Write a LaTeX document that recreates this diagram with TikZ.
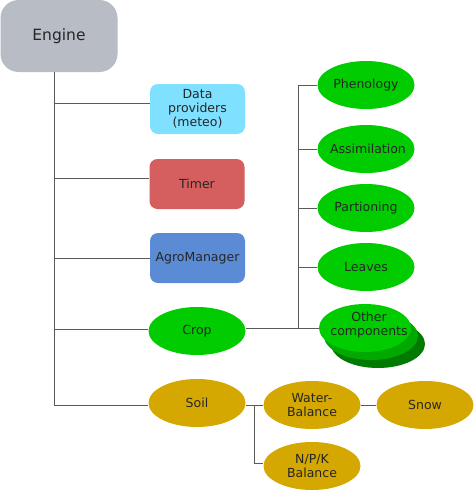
\documentclass[tikz,border=0pt]{standalone}
\usepackage{fontspec}
\setmainfont{DejaVu Sans}
\usetikzlibrary{shapes.geometric}
\definecolor{enginegray}{HTML}{B8BCC4}
\definecolor{datacyan}{HTML}{7FE0FF}
\definecolor{timerred}{HTML}{D55E5E}
\definecolor{agroblue}{HTML}{5B8BD5}
\definecolor{cropgreen}{HTML}{00CC00}
\definecolor{midgreen}{HTML}{00A800}
\definecolor{darkgreen}{HTML}{007A00}
\definecolor{soilgold}{HTML}{D4A800}
\definecolor{linegray}{HTML}{5A5A5A}
\tikzset{
  box/.style={rounded corners=8pt, minimum width=95pt, minimum height=50pt, inner sep=1pt, align=center, font=\fontsize{12.5}{14}\selectfont, text=black!85},
  oval/.style={ellipse, minimum width=97pt, minimum height=48pt, inner sep=0pt},
  ovaltext/.style={font=\fontsize{12.5}{14}\selectfont, text=black!85, align=center, inner sep=0pt},
  link/.style={draw=linegray, line width=0.9pt}
}
\begin{document}
\begin{tikzpicture}[x=1pt, y=-1pt]
\useasboundingbox (0,0) rectangle (474,490);
% Engine
\node[box, fill=enginegray, rounded corners=18pt, minimum width=117pt, minimum height=72pt, font=\fontsize{15.5}{17}\selectfont] (engine) at (59,36) {Engine};
% trunk
\coordinate (tr0) at (54,72);
\coordinate (tr1) at (54,103);
\coordinate (tr2) at (54,178);
\coordinate (tr3) at (54,258);
\coordinate (tr4) at (54,329);
\coordinate (tr5) at (54,405);
\node[box, fill=datacyan] (data) at (197.5,109) {Data\\providers\\(meteo)};
\node[box, fill=timerred] (timer) at (197,184) {Timer};
\node[box, fill=agroblue] (agro) at (197.5,258) {AgroManager};
\node[oval, fill=cropgreen, label={[ovaltext]center:Crop}] (crop) at (197,331) {};
\node[oval, fill=soilgold, label={[ovaltext]center:Soil}] (soil) at (197,403) {};
\draw[link] (tr0) -- (tr5) -- (soil.west |- tr5);
\draw[link] (tr1) -- (data.west |- tr1);
\draw[link] (tr2) -- (timer.west |- tr2);
\draw[link] (tr3) -- (agro.west |- tr3);
\draw[link] (tr4) -- (crop.west |- tr4);
% crop components
\node[oval, fill=cropgreen, label={[ovaltext]center:Phenology}] (phen) at (366,85) {};
\node[oval, fill=cropgreen, label={[ovaltext, xshift=2pt]center:Assimilation}] (assim) at (366,149) {};
\node[oval, fill=cropgreen, label={[ovaltext]center:Partioning}] (part) at (366,208) {};
\node[oval, fill=cropgreen, label={[ovaltext]center:Leaves}] (leaves) at (366,267) {};
\node[oval, fill=darkgreen, minimum width=94pt] (oc3) at (378,344) {};
\node[oval, fill=midgreen, minimum width=94pt] (oc2) at (371,336) {};
\node[oval, fill=cropgreen, minimum width=92pt, label={[ovaltext, xshift=4pt, yshift=3pt]center:Other\\components}] (other) at (365,328) {};
\coordinate (cv0) at (298,85);
\coordinate (cv4) at (298,328);
\draw[link] (crop.east |- cv4) -- (other.west |- cv4);
\draw[link] (phen.west |- cv0) -- (cv0) -- (cv4);
\draw[link] (298,149) -- (assim.west |- 0,149);
\draw[link] (298,208) -- (part.west |- 0,208);
\draw[link] (298,267) -- (leaves.west |- 0,267);
% soil components
\node[oval, fill=soilgold, label={[ovaltext]center:Water-\\Balance}] (water) at (312,405) {};
\node[oval, fill=soilgold, label={[ovaltext]center:Snow}] (snow) at (425,405) {};
\node[oval, fill=soilgold, label={[ovaltext]center:N/P/K\\Balance}] (npk) at (312,466) {};
\coordinate (sv) at (254,405);
\coordinate (sv1) at (254,463);
\draw[link] (soil.east |- sv) -- (water.west |- sv);
\draw[link] (water.east) -- (snow.west);
\draw[link] (sv) -- (sv1) -- (npk.west |- sv1);
\end{tikzpicture}
\end{document}
